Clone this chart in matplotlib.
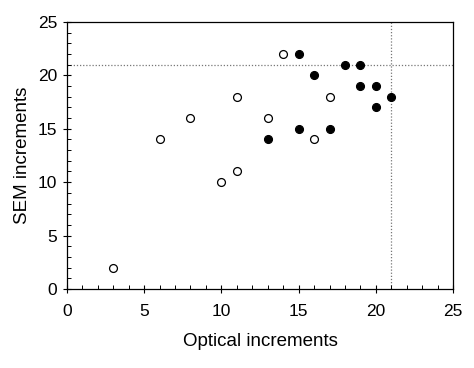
import matplotlib.pyplot as plt
from matplotlib.ticker import MultipleLocator

plt.rcParams['font.family'] = ['Liberation Sans', 'DejaVu Sans']

# open circles
open_x = [3, 6, 8, 10, 11, 11, 13, 14, 16, 17]
open_y = [2, 14, 16, 10, 11, 18, 16, 22, 14, 18]

# filled circles
filled_x = [13, 15, 15, 16, 17, 18, 19, 19, 20, 20, 21]
filled_y = [14, 22, 15, 20, 15, 21, 21, 19, 19, 17, 18]

ref_x = 21
ref_y = 21

fig = plt.figure(figsize=(4.74, 3.68), dpi=100)
ax = fig.add_axes([0.141, 0.215, 0.815, 0.725])

ax.axvline(ref_x, color='#777777', linestyle=(0, (1, 1.5)), linewidth=0.9, zorder=1)
ax.axhline(ref_y, color='#777777', linestyle=(0, (1, 1.5)), linewidth=0.9, zorder=1)

ax.scatter(open_x, open_y, s=32, facecolors='white', edgecolors='black',
           linewidths=0.9, zorder=3)
ax.scatter(filled_x, filled_y, s=32, facecolors='black', edgecolors='black',
           linewidths=0.9, zorder=3)

ax.set_xlim(0, 25)
ax.set_ylim(0, 25)
ax.xaxis.set_major_locator(MultipleLocator(5))
ax.yaxis.set_major_locator(MultipleLocator(5))
ax.xaxis.set_minor_locator(MultipleLocator(1))
ax.yaxis.set_minor_locator(MultipleLocator(1))
ax.tick_params(which='major', direction='inout', length=6, width=0.8,
               labelsize=12.5)
ax.tick_params(axis='x', which='major', pad=8)
ax.tick_params(axis='y', which='major', pad=4)
ax.tick_params(which='minor', direction='in', length=3, width=0.7)
for sp in ax.spines.values():
    sp.set_linewidth(0.9)

ax.set_xlabel('Optical increments', fontsize=13.5, labelpad=10)
ax.set_ylabel('SEM increments', fontsize=13.5, labelpad=5)

fig.savefig('out.png', dpi=100)
